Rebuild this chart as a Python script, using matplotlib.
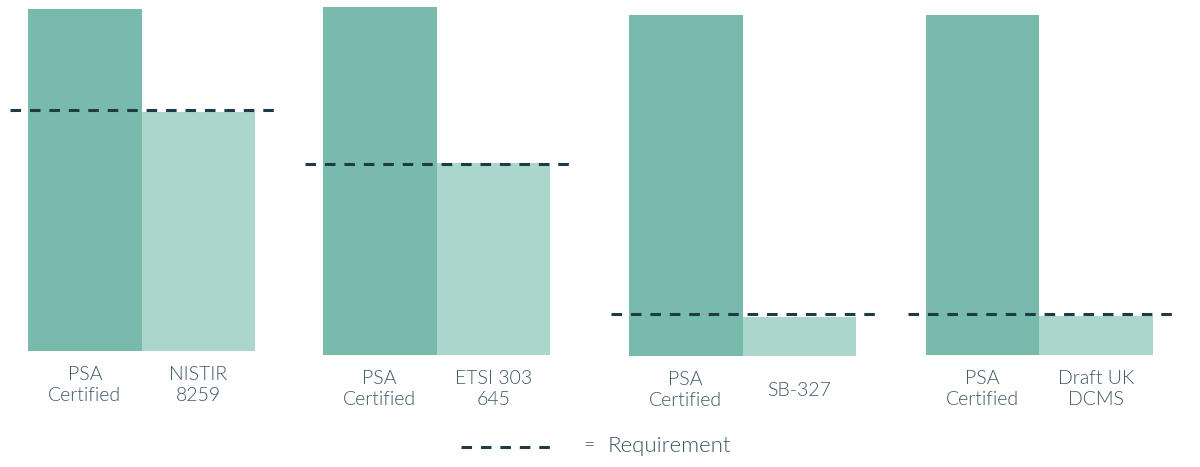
import matplotlib.pyplot as plt
from matplotlib.lines import Line2D

plt.rcParams['font.family'] = ['Lato', 'DejaVu Sans']
plt.rcParams['lines.scale_dashes'] = False

# data (PSA Certified scaled to 100 in every panel)
psa_label = "PSA\nCertified"
other_labels = ["NISTIR\n8259", "ETSI 303\n645", "SB-327", "Draft UK\nDCMS"]
psa_values = [100, 100, 100, 100]
other_values = [69.9, 55.2, 11.5, 11.4]
requirement = [70.4, 55.0, 12.2, 12.0]

dark = "#78bbad"
light = "#aad6cc"
line_col = "#1f3b47"
text_col = "#3a5662"

W, H = 1200, 467
fig = plt.figure(figsize=(W / 100, H / 100), dpi=100)

# panel layout in pixels: left edge of first bar, top, bottom
bar_px = 113.5
lefts = [28, 323, 629, 926]
tops = [9, 7, 15, 15]
bottoms = [351, 355, 356, 355]
x0, x1 = -0.7, 1.7

for i in range(4):
    ax_left = lefts[i] + (x0 + 0.5) * bar_px
    ax_w = (x1 - x0) * bar_px
    ax_h = bottoms[i] - tops[i]
    ax = fig.add_axes([ax_left / W, (H - bottoms[i]) / H, ax_w / W, ax_h / H])
    ax.bar([0], [psa_values[i]], width=1.0, color=dark)
    ax.bar([1], [other_values[i]], width=1.0, color=light)
    ax.plot([-0.66, 1.68], [requirement[i], requirement[i]], color=line_col,
            lw=2.2, dashes=(7.6, 6.4))
    ax.set_xlim(x0, x1)
    ax.set_ylim(0, 100)
    ax.axis('off')
    for xx, lab in zip([0, 1], [psa_label, other_labels[i]]):
        ax.annotate(lab, (xx, 0), xytext=(0, -34), textcoords='offset pixels',
                    ha='center', va='center', fontsize=14, color=text_col,
                    fontweight=300, linespacing=1.35, annotation_clip=False)

# legend at the bottom
fig.add_artist(Line2D([461 / W, 552 / W], [(H - 446.5) / H] * 2, color=line_col,
                      lw=2.2, dashes=(7.6, 6.4)))
fig.text(583 / W, (H - 446) / H, "=", ha='left', va='center', fontsize=14,
         color=text_col, fontweight=300)
fig.text(608 / W, (H - 446) / H, "Requirement", ha='left', va='center', fontsize=16,
         color=text_col, fontweight=300)

fig.savefig("out.png", dpi=100, facecolor='white')
